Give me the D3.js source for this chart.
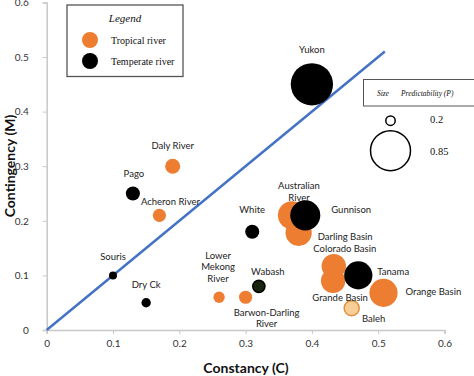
<!DOCTYPE html>
<html>
<head>
<meta charset="utf-8">
<script src="https://cdn.jsdelivr.net/npm/d3@7"></script>
<style>
  body { margin: 0; background: #fff; }
  svg { display: block; }
  .tick text { font-family: Lato, "Open Sans", sans-serif; font-size: 10px; fill: #333; }
  .lbl { font-family: Lato, "Open Sans", sans-serif; font-size: 9.5px; fill: #222; }
  .serif { font-family: "Liberation Serif", "DejaVu Serif", serif; fill: #111; }
</style>
</head>
<body>
<div id="chart"></div>
<script>
// river data
const rivers = ["Yukon", "Daly River", "Pago", "Acheron River", "White", "Souris", "Dry Ck",
  "Lower Mekong River", "Barwon-Darling River", "Wabash", "Australian River", "Gunnison",
  "Darling Basin", "Colorado Basin", "Grande Basin", "Tanama", "Orange Basin", "Baleh"];
const constancy = [0.40, 0.19, 0.13, 0.17, 0.31, 0.10, 0.15, 0.26, 0.30, 0.32, 0.37, 0.39,
  0.38, 0.433, 0.432, 0.47, 0.508, 0.46];
const contingency = [0.45, 0.30, 0.25, 0.21, 0.18, 0.10, 0.05, 0.06, 0.06, 0.08, 0.21, 0.21,
  0.178, 0.117, 0.09, 0.10, 0.068, 0.04];
const predictability = [0.9, 0.32, 0.3, 0.28, 0.3, 0.17, 0.2, 0.24, 0.28, 0.26, 0.6, 0.64,
  0.56, 0.52, 0.52, 0.6, 0.6, 0.32];
const climate = ["temperate", "tropical", "temperate", "tropical", "temperate", "temperate",
  "temperate", "tropical", "tropical", "temperate", "tropical", "temperate", "tropical",
  "tropical", "tropical", "temperate", "tropical", "tropical"];
const legendTypes = ["Tropical river", "Temperate river"];
const sizeLegend = [0.2, 0.85];
const ticks = [0, 0.1, 0.2, 0.3, 0.4, 0.5, 0.6];

// label placement (px offset from bubble centre)
const labelPos = {
  "Yukon": [0, -35, "middle"], "Daly River": [0, -21, "middle"], "Pago": [1, -20, "middle"],
  "Acheron River": [11, -14, "middle"], "White": [0, -22, "middle"], "Souris": [0, -19, "middle"],
  "Dry Ck": [0, -18, "middle"], "Lower Mekong River": [-1, -42, "middle"],
  "Barwon-Darling River": [21, 15, "middle"], "Wabash": [9, -15, "middle"],
  "Australian River": [7, -30, "middle"], "Gunnison": [26, -6, "start"],
  "Darling Basin": [19, 4, "start"], "Colorado Basin": [11, -17, "middle"],
  "Grande Basin": [7, 17, "middle"], "Tanama": [19, -4, "start"],
  "Orange Basin": [22, -1, "start"], "Baleh": [22, 11, "middle"]
};
const lineBreaks = {
  "Lower Mekong River": ["Lower", "Mekong", "River"],
  "Barwon-Darling River": ["Barwon-Darling", "River"],
  "Australian River": ["Australian", "River"]
};

const W = 474, H = 376;
const svg = d3.select("#chart").append("svg").attr("width", W).attr("height", H);

const x = d3.scaleLinear().domain([0, 0.6]).range([46.7, 444.5]);
const y = d3.scaleLinear().domain([0, 0.6]).range([330, 2.4]);
const r = d3.scaleLinear().domain([0, 1]).range([0, 23.5]);

let data = rivers.map((name, i) => ({
  name: name, c: constancy[i], m: contingency[i], p: predictability[i], type: climate[i]
}));

// axes
const xAxis = svg.append("g").attr("transform", "translate(0,330)")
  .call(d3.axisBottom(x).tickValues(ticks).tickFormat(d3.format("")).tickSize(4).tickPadding(6));
const yAxis = svg.append("g").attr("transform", "translate(46.7,0)")
  .call(d3.axisLeft(y).tickValues(ticks).tickFormat(d3.format("")).tickSize(4).tickPadding(14));
[xAxis, yAxis].forEach(a => {
  a.selectAll("path, line").attr("stroke", "#c8c8c8");
  a.select(".domain").attr("stroke-width", 1.5);
});

// 1:1 line
svg.append("line")
  .attr("x1", x(0)).attr("y1", y(0)).attr("x2", x(0.51)).attr("y2", y(0.51))
  .attr("stroke", "#4472c4").attr("stroke-width", 2.5);

// bubbles: tropical first, then temperate on top
const order = { tropical: 0, temperate: 1 };
const sorted = data.slice().sort((a, b) => order[a.type] - order[b.type]);

svg.selectAll("circle.pt")
  .data(sorted)
  .enter()
  .append("circle")
  .attr("class", "pt")
  .attr("cx", d => x(d.c))
  .attr("cy", d => y(d.m))
  .attr("r", d => r(d.p))
  .attr("fill", d => {
    if (d.name == "Baleh") return "#f7cf96";
    if (d.name == "Wabash") return "#17240f";
    return d.type == "tropical" ? "#ed7d31" : "#000";
  })
  .attr("stroke", d => d.name == "Baleh" ? "#e0903f" : (d.name == "Wabash" ? "#000" : "none"))
  .attr("stroke-width", 1.5);

// labels
const lbl = svg.selectAll("text.lbl")
  .data(data)
  .enter()
  .append("text")
  .attr("class", "lbl")
  .attr("text-anchor", d => labelPos[d.name][2])
  .attr("x", d => x(d.c) + labelPos[d.name][0])
  .attr("y", d => y(d.m) + labelPos[d.name][1]);

lbl.each(function(d) {
  const parts = lineBreaks[d.name] || [d.name];
  const t = d3.select(this);
  parts.forEach((s, i) => {
    t.append("tspan")
      .attr("x", x(d.c) + labelPos[d.name][0])
      .attr("dy", i == 0 ? "0.35em" : "1.25em")
      .text(s);
  });
});

// axis titles
svg.append("text")
  .attr("x", 246).attr("y", 373)
  .attr("text-anchor", "middle")
  .attr("font-family", "Lato, 'Open Sans', sans-serif")
  .attr("font-weight", "bold").attr("font-size", 14).attr("fill", "#111")
  .text("Constancy (C)");
svg.append("text")
  .attr("transform", "translate(15,166) rotate(-90)")
  .attr("text-anchor", "middle")
  .attr("font-family", "Lato, 'Open Sans', sans-serif")
  .attr("font-weight", "bold").attr("font-size", 14).attr("fill", "#111")
  .text("Contingency (M)");

// type legend
const lg = svg.append("g");
lg.append("rect").attr("x", 67).attr("y", 5).attr("width", 116).attr("height", 71.5)
  .attr("fill", "#fff").attr("stroke", "#555").attr("stroke-width", 1.3);
lg.append("text").attr("class", "serif").attr("x", 125).attr("y", 22)
  .attr("text-anchor", "middle").attr("font-style", "italic").attr("font-size", 11)
  .text("Legend");
legendTypes.forEach((t, i) => {
  lg.append("circle").attr("cx", 90).attr("cy", 40 + i * 21).attr("r", 8)
    .attr("fill", i == 0 ? "#ed7d31" : "#000");
  lg.append("text").attr("class", "serif").attr("x", 111).attr("y", 40 + i * 21)
    .attr("dy", "0.35em").attr("font-size", 10).text(t);
});

// size legend
const sg = svg.append("g");
sg.append("rect").attr("x", 363.5).attr("y", 79.5).attr("width", 120).attr("height", 26.5)
  .attr("fill", "#fff").attr("stroke", "#555").attr("stroke-width", 1);
sg.append("text").attr("class", "serif").attr("x", 377).attr("y", 93)
  .attr("dy", "0.35em").attr("font-style", "italic").attr("font-size", 7.5)
  .text("Size");
sg.append("text").attr("class", "serif").attr("x", 401).attr("y", 93)
  .attr("dy", "0.35em").attr("font-style", "italic").attr("font-size", 7.5)
  .text("Predictability (P)");
sg.selectAll("circle.size")
  .data(sizeLegend)
  .enter()
  .append("circle")
  .attr("class", "size")
  .attr("cx", 390.5)
  .attr("cy", (d, i) => i == 0 ? 120.7 : 150.7)
  .attr("r", d => r(d))
  .attr("fill", "none").attr("stroke", "#000").attr("stroke-width", 1.5);
sg.selectAll("text.sz")
  .data(sizeLegend)
  .enter()
  .append("text")
  .attr("class", "serif sz")
  .attr("x", 430)
  .attr("y", (d, i) => i == 0 ? 119 : 151)
  .attr("dy", "0.35em")
  .attr("font-size", 10.5)
  .text(d => d);
</script>
</body>
</html>
